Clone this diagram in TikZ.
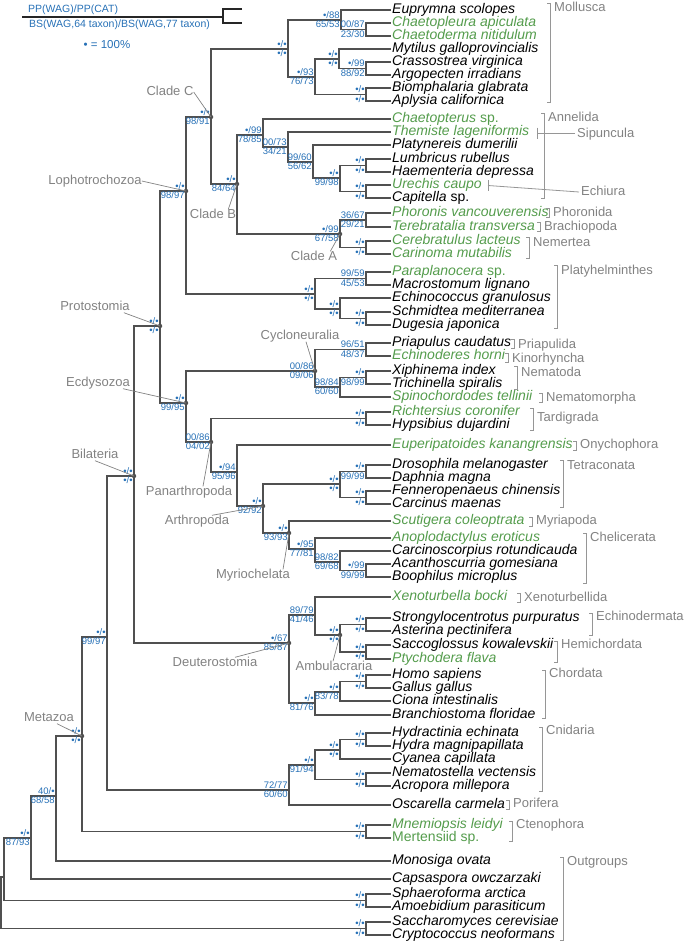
\documentclass[tikz,border=0pt]{standalone}
\usepackage{fontspec}
\setmainfont{Liberation Sans}
\usetikzlibrary{positioning}

\definecolor{treeline}{RGB}{80,80,80}
\definecolor{suppblue}{RGB}{38,112,182}
\definecolor{newgreen}{RGB}{84,156,76}
\definecolor{labelgray}{RGB}{130,130,130}
\definecolor{bracketgray}{RGB}{150,150,150}

% support values above and below the branch leading to a node
\newcommand{\support}[3]{%
  \node[bs, anchor=south east] (#1-up) at (#1) {#2};
  \node[bs, anchor=north east] (#1-dn) at (#1) {#3};}

% bracket with group name: name, x, top, bottom, label y, text
\newcommand{\taxgroup}[6]{%
  \draw[bracket] (#2-3,#3) -- (#2,#3) -- (#2,#4) -- (#2-3,#4);
  \node[group] (#1) at (#2+4,#5) {#6};}

\begin{document}
\begin{tikzpicture}[
    x=1pt, y=-1pt,
    branch/.style={draw=treeline, line width=1.1pt},
    leaf/.style={anchor=west, inner xsep=1pt, inner ysep=0pt, text height=9.5pt, text depth=2.5pt,
                 font=\fontsize{14}{14}\selectfont\itshape},
    newleaf/.style={leaf, text=newgreen},
    bs/.style={inner xsep=1.2pt, inner ysep=0.9pt, text height=6.8pt, text depth=0.6pt, text=suppblue,
               font=\fontsize{9.5}{10}\selectfont},
    legend/.style={inner sep=0pt, text=suppblue, font=\fontsize{10.5}{11}\selectfont},
    group/.style={anchor=west, inner sep=0pt, text height=9pt, text depth=2.5pt, text=labelgray,
                  font=\fontsize{13}{13}\selectfont},
    clade/.style={inner sep=0pt, text height=8.8pt, text depth=2.2pt, text=labelgray,
                  font=\fontsize{13}{13}\selectfont},
    pointer/.style={draw=labelgray, line width=0.7pt},
    bracket/.style={draw=bracketgray, line width=0.8pt},
    knot/.style={circle, fill=treeline, inner sep=0pt, minimum size=4.5pt}
]
\useasboundingbox (0,0) rectangle (685,943);

% Legend
\coordinate (key-a) at (22,17);
\coordinate (key-b) at (223,17);
\coordinate (key-c) at (242,9);
\coordinate (key-d) at (242,23);
\draw[branch, draw=black!85, line width=1.4pt] (key-a) -- (key-b);
\draw[branch, draw=black!85, line width=1.4pt] (key-c) -| (key-b) |- (key-d);
\node[legend, anchor=south west] (key-pp) at (28,15) {PP(WAG)/PP(CAT)};
\node[legend, anchor=north west] (key-bs) at (29,20) {BS(WAG,64 taxon)/BS(WAG,77 taxon)};
\node[legend, font=\fontsize{11.5}{12}\selectfont] (key-dot) at (107,45) {• = 100\%};

% Taxa
\node[leaf] (euprymna) at (391,10) {Euprymna scolopes};
\node[newleaf] (chaetopleura) at (391,23) {Chaetopleura apiculata};
\node[newleaf] (chaetoderma) at (391,36) {Chaetoderma nitidulum};
\node[leaf] (mytilus) at (391,49) {Mytilus galloprovincialis};
\node[leaf] (crassostrea) at (391,62) {Crassostrea virginica};
\node[leaf] (argopecten) at (391,75) {Argopecten irradians};
\node[leaf] (biomphalaria) at (391,88) {Biomphalaria glabrata};
\node[leaf] (aplysia) at (391,101) {Aplysia californica};
\node[newleaf] (chaetopterus) at (391,119) {Chaetopterus \textup{sp.}};
\node[newleaf] (themiste) at (391,132) {Themiste lageniformis};
\node[leaf] (platynereis) at (391,145) {Platynereis dumerilii};
\node[leaf] (lumbricus) at (391,159) {Lumbricus rubellus};
\node[leaf] (haementeria) at (391,172) {Haementeria depressa};
\node[newleaf] (urechis) at (391,185) {Urechis caupo};
\node[leaf] (capitella) at (391,198) {Capitella \textup{sp.}};
\node[newleaf] (phoronis) at (391,213) {Phoronis vancouverensis};
\node[newleaf] (terebratalia) at (391,227) {Terebratalia transversa};
\node[newleaf] (cerebratulus) at (391,241) {Cerebratulus lacteus};
\node[newleaf] (carinoma) at (391,254) {Carinoma mutabilis};
\node[newleaf] (paraplanocera) at (391,272) {Paraplanocera \textup{sp.}};
\node[leaf] (macrostomum) at (391,285) {Macrostomum lignano};
\node[leaf] (echinococcus) at (391,298) {Echinococcus granulosus};
\node[leaf] (schmidtea) at (391,312) {Schmidtea mediterranea};
\node[leaf] (dugesia) at (391,325) {Dugesia japonica};
\node[leaf] (priapulus) at (391,343) {Priapulus caudatus};
\node[newleaf] (echinoderes) at (391,356) {Echinoderes horni};
\node[leaf] (xiphinema) at (391,371) {Xiphinema index};
\node[leaf] (trichinella) at (391,384) {Trichinella spiralis};
\node[newleaf] (spinochordodes) at (391,397) {Spinochordodes tellinii};
\node[newleaf] (richtersius) at (391,412) {Richtersius coronifer};
\node[leaf] (hypsibius) at (391,425) {Hypsibius dujardini};
\node[newleaf] (euperipatoides) at (391,445) {Euperipatoides kanangrensis};
\node[leaf] (drosophila) at (391,465) {Drosophila melanogaster};
\node[leaf] (daphnia) at (391,478) {Daphnia magna};
\node[leaf] (fenneropenaeus) at (391,491) {Fenneropenaeus chinensis};
\node[leaf] (carcinus) at (391,504) {Carcinus maenas};
\node[newleaf] (scutigera) at (391,521) {Scutigera coleoptrata};
\node[newleaf] (anoplodactylus) at (391,538) {Anoplodactylus eroticus};
\node[leaf] (carcinoscorpius) at (391,551) {Carcinoscorpius rotundicauda};
\node[leaf] (acanthoscurria) at (391,564) {Acanthoscurria gomesiana};
\node[leaf] (boophilus) at (391,577) {Boophilus microplus};
\node[newleaf] (xenoturbella) at (391,597) {Xenoturbella bocki};
\node[leaf] (strongylocentrotus) at (391,618) {Strongylocentrotus purpuratus};
\node[leaf] (asterina) at (391,631) {Asterina pectinifera};
\node[leaf] (saccoglossus) at (391,645) {Saccoglossus kowalevskii};
\node[newleaf] (ptychodera) at (391,659) {Ptychodera flava};
\node[leaf] (homo) at (391,675) {Homo sapiens};
\node[leaf] (gallus) at (391,688) {Gallus gallus};
\node[leaf] (ciona) at (391,701) {Ciona intestinalis};
\node[leaf] (branchiostoma) at (391,715) {Branchiostoma floridae};
\node[leaf] (hydractinia) at (391,733) {Hydractinia echinata};
\node[leaf] (hydra) at (391,746) {Hydra magnipapillata};
\node[leaf] (cyanea) at (391,759) {Cyanea capillata};
\node[leaf] (nematostella) at (391,773) {Nematostella vectensis};
\node[leaf] (acropora) at (391,786) {Acropora millepora};
\node[leaf] (oscarella) at (391,805) {Oscarella carmela};
\node[newleaf] (mnemiopsis) at (391,825) {Mnemiopsis leidyi};
\node[newleaf, font=\fontsize{14}{14}\selectfont\upshape] (mertensiid) at (391,838) {Mertensiid sp.};
\node[leaf] (monosiga) at (391,861) {Monosiga ovata};
\node[leaf] (capsaspora) at (391,879) {Capsaspora owczarzaki};
\node[leaf] (sphaeroforma) at (391,894) {Sphaeroforma arctica};
\node[leaf] (amoebidium) at (391,907) {Amoebidium parasiticum};
\node[leaf] (saccharomyces) at (391,922) {Saccharomyces cerevisiae};
\node[leaf] (cryptococcus) at (391,935) {Cryptococcus neoformans};

% Branch points
\coordinate (m1) at (341,20);
\coordinate (m2) at (366,29.5);
\coordinate (mollusca) at (288,49);
\coordinate (m3) at (315,77);
\coordinate (m4) at (339,59);
\coordinate (m5) at (366,68.5);
\coordinate (m6) at (366,94.5);
\coordinate (cladeC) at (211,117);
\coordinate (cladeB) at (237,184);
\coordinate (a1) at (263,135);
\coordinate (a2) at (288,147);
\coordinate (a3) at (313,162);
\coordinate (a4) at (340,178);
\coordinate (a5) at (366,165.5);
\coordinate (a6) at (366,191.5);
\coordinate (cladeA) at (340,234);
\coordinate (l1) at (366,220);
\coordinate (l2) at (366,247.5);
\coordinate (lophotrochozoa) at (186,191);
\coordinate (platy) at (315,294);
\coordinate (p1) at (366,278.5);
\coordinate (p2) at (340,309);
\coordinate (p3) at (366,318.5);
\coordinate (protostomia) at (160,326);
\coordinate (ecdysozoa) at (186,403);
\coordinate (cycloneuralia) at (315,371);
\coordinate (c1) at (366,349.5);
\coordinate (c2) at (340,387);
\coordinate (c3) at (366,377.5);
\coordinate (panarthropoda) at (211,442);
\coordinate (t1) at (366,418.5);
\coordinate (e1) at (237,472);
\coordinate (arthropoda) at (263,506);
\coordinate (tetraconata) at (340,484);
\coordinate (d1) at (366,471.5);
\coordinate (d2) at (366,497.5);
\coordinate (myriochelata) at (289,533);
\coordinate (h1) at (315,549);
\coordinate (h2) at (340,562);
\coordinate (h3) at (366,570.5);
\coordinate (bilateria) at (134,476);
\coordinate (deuterostomia) at (289,643);
\coordinate (x1) at (315,615);
\coordinate (ambulacraria) at (340,635);
\coordinate (s1) at (366,624.5);
\coordinate (s2) at (366,652);
\coordinate (chordata) at (315,703);
\coordinate (v1) at (340,692);
\coordinate (v2) at (366,681.5);
\coordinate (n1) at (107,637);
\coordinate (n2) at (289,790);
\coordinate (cnidaria) at (315,765);
\coordinate (k1) at (340,750);
\coordinate (k2) at (366,739.5);
\coordinate (k3) at (366,779.5);
\coordinate (metazoa) at (82,736);
\coordinate (ctenophora) at (366,831.5);
\coordinate (o1) at (56,796);
\coordinate (o2) at (31,838);
\coordinate (o3) at (4,877);
\coordinate (o4) at (366,900.5);
\coordinate (o5) at (366,928.5);
\coordinate (root) at (1,903);

% Branches
\draw[branch] (m1) |- (euprymna.west) (m1) |- (m2);
\draw[branch] (m2) |- (chaetopleura.west) (m2) |- (chaetoderma.west);
\draw[branch] (mollusca) |- (m1) (mollusca) |- (m3);
\draw[branch] (m3) |- (m4) (m3) |- (m6);
\draw[branch] (m4) |- (mytilus.west) (m4) |- (m5);
\draw[branch] (m5) |- (crassostrea.west) (m5) |- (argopecten.west);
\draw[branch] (m6) |- (biomphalaria.west) (m6) |- (aplysia.west);
\draw[branch] (cladeC) |- (mollusca) (cladeC) |- (cladeB);
\draw[branch] (cladeB) |- (a1) (cladeB) |- (cladeA);
\draw[branch] (a1) |- (chaetopterus.west) (a1) |- (a2);
\draw[branch] (a2) |- (themiste.west) (a2) |- (a3);
\draw[branch] (a3) |- (platynereis.west) (a3) |- (a4);
\draw[branch] (a4) |- (a5) (a4) |- (a6);
\draw[branch] (a5) |- (lumbricus.west) (a5) |- (haementeria.west);
\draw[branch] (a6) |- (urechis.west) (a6) |- (capitella.west);
\draw[branch] (cladeA) |- (l1) (cladeA) |- (l2);
\draw[branch] (l1) |- (phoronis.west) (l1) |- (terebratalia.west);
\draw[branch] (l2) |- (cerebratulus.west) (l2) |- (carinoma.west);
\draw[branch] (lophotrochozoa) |- (cladeC) (lophotrochozoa) |- (platy);
\draw[branch] (platy) |- (p1) (platy) |- (p2);
\draw[branch] (p1) |- (paraplanocera.west) (p1) |- (macrostomum.west);
\draw[branch] (p2) |- (echinococcus.west) (p2) |- (p3);
\draw[branch] (p3) |- (schmidtea.west) (p3) |- (dugesia.west);
\draw[branch] (protostomia) |- (lophotrochozoa) (protostomia) |- (ecdysozoa);
\draw[branch] (ecdysozoa) |- (cycloneuralia) (ecdysozoa) |- (panarthropoda);
\draw[branch] (cycloneuralia) |- (c1) (cycloneuralia) |- (c2);
\draw[branch] (c1) |- (priapulus.west) (c1) |- (echinoderes.west);
\draw[branch] (c2) |- (c3) (c2) |- (spinochordodes.west);
\draw[branch] (c3) |- (xiphinema.west) (c3) |- (trichinella.west);
\draw[branch] (panarthropoda) |- (t1) (panarthropoda) |- (e1);
\draw[branch] (t1) |- (richtersius.west) (t1) |- (hypsibius.west);
\draw[branch] (e1) |- (euperipatoides.west) (e1) |- (arthropoda);
\draw[branch] (arthropoda) |- (tetraconata) (arthropoda) |- (myriochelata);
\draw[branch] (tetraconata) |- (d1) (tetraconata) |- (d2);
\draw[branch] (d1) |- (drosophila.west) (d1) |- (daphnia.west);
\draw[branch] (d2) |- (fenneropenaeus.west) (d2) |- (carcinus.west);
\draw[branch] (myriochelata) |- (scutigera.west) (myriochelata) |- (h1);
\draw[branch] (h1) |- (anoplodactylus.west) (h1) |- (h2);
\draw[branch] (h2) |- (carcinoscorpius.west) (h2) |- (h3);
\draw[branch] (h3) |- (acanthoscurria.west) (h3) |- (boophilus.west);
\draw[branch] (bilateria) |- (protostomia) (bilateria) |- (deuterostomia);
\draw[branch] (deuterostomia) |- (x1) (deuterostomia) |- (chordata);
\draw[branch] (x1) |- (xenoturbella.west) (x1) |- (ambulacraria);
\draw[branch] (ambulacraria) |- (s1) (ambulacraria) |- (s2);
\draw[branch] (s1) |- (strongylocentrotus.west) (s1) |- (asterina.west);
\draw[branch] (s2) |- (saccoglossus.west) (s2) |- (ptychodera.west);
\draw[branch] (chordata) |- (v1) (chordata) |- (branchiostoma.west);
\draw[branch] (v1) |- (v2) (v1) |- (ciona.west);
\draw[branch] (v2) |- (homo.west) (v2) |- (gallus.west);
\draw[branch] (n1) |- (bilateria) (n1) |- (n2);
\draw[branch] (n2) |- (cnidaria) (n2) |- (oscarella.west);
\draw[branch] (cnidaria) |- (k1) (cnidaria) |- (k3);
\draw[branch] (k1) |- (k2) (k1) |- (cyanea.west);
\draw[branch] (k2) |- (hydractinia.west) (k2) |- (hydra.west);
\draw[branch] (k3) |- (nematostella.west) (k3) |- (acropora.west);
\draw[branch] (metazoa) |- (n1) (metazoa) |- (ctenophora);
\draw[branch] (ctenophora) |- (mnemiopsis.west) (ctenophora) |- (mertensiid.west);
\draw[branch] (o1) |- (metazoa) (o1) |- (monosiga.west);
\draw[branch] (o2) |- (o1) (o2) |- (capsaspora.west);
\draw[branch] (o3) |- (o2) (o3) |- (o4);
\draw[branch] (o4) |- (sphaeroforma.west) (o4) |- (amoebidium.west);
\draw[branch] (root) |- (o3) (root) |- (o5);
\draw[branch] (o5) |- (saccharomyces.west) (o5) |- (cryptococcus.west);

% Support values
\support{m1}{•/88}{65/53}
\support{m2}{00/87}{23/30}
\support{mollusca}{•/•}{•/•}
\support{m3}{•/93}{76/73}
\support{m4}{•/•}{•/•}
\support{m5}{•/99}{88/92}
\support{m6}{•/•}{•/•}
\support{cladeC}{•/•}{98/91}
\support{cladeB}{•/•}{84/64}
\support{a1}{•/99}{78/85}
\support{a2}{00/73}{34/21}
\support{a3}{99/60}{56/62}
\support{a4}{•/•}{99/98}
\support{a5}{•/•}{•/•}
\support{a6}{•/•}{•/•}
\support{cladeA}{•/99}{67/58}
\support{l1}{36/67}{29/21}
\support{l2}{•/•}{•/•}
\support{lophotrochozoa}{•/•}{98/97}
\support{platy}{•/•}{•/•}
\support{p1}{99/59}{45/53}
\support{p2}{•/•}{•/•}
\support{p3}{•/•}{•/•}
\support{protostomia}{•/•}{•/•}
\support{ecdysozoa}{•/•}{99/95}
\support{cycloneuralia}{00/86}{09/06}
\support{c1}{96/51}{48/37}
\support{c2}{98/84}{60/60}
\support{c3}{•/•}{98/99}
\support{panarthropoda}{00/86}{04/02}
\support{t1}{•/•}{•/•}
\support{e1}{•/94}{95/96}
\support{arthropoda}{•/•}{92/92}
\support{tetraconata}{•/•}{•/•}
\support{d1}{•/•}{99/99}
\support{d2}{•/•}{•/•}
\support{myriochelata}{•/•}{93/93}
\support{h1}{•/95}{77/81}
\support{h2}{98/82}{69/68}
\support{h3}{•/99}{99/99}
\support{bilateria}{•/•}{•/•}
\support{deuterostomia}{•/67}{85/87}
\support{x1}{89/79}{41/46}
\support{ambulacraria}{•/•}{•/•}
\support{s1}{•/•}{•/•}
\support{s2}{•/•}{•/•}
\support{chordata}{•/•}{81/76}
\support{v1}{•/•}{83/78}
\support{v2}{•/•}{•/•}
\support{n1}{•/•}{99/97}
\support{n2}{72/77}{60/60}
\support{cnidaria}{•/•}{91/94}
\support{k1}{•/•}{•/•}
\support{k2}{•/•}{•/•}
\support{k3}{•/•}{•/•}
\support{metazoa}{•/•}{•/•}
\support{ctenophora}{•/•}{•/•}
\support{o1}{40/•}{68/58}
\support{o2}{•/•}{87/93}
\support{o4}{•/•}{•/•}
\support{o5}{•/•}{•/•}

% Named clades
\node[knot] (cladeC-knot) at (cladeC) {};
\node[knot] (cladeB-knot) at (cladeB) {};
\node[knot] (cladeA-knot) at (cladeA) {};
\node[knot] (lophotrochozoa-knot) at (lophotrochozoa) {};
\node[knot] (protostomia-knot) at (protostomia) {};
\node[knot] (ecdysozoa-knot) at (ecdysozoa) {};
\node[knot] (cycloneuralia-knot) at (cycloneuralia) {};
\node[knot] (panarthropoda-knot) at (panarthropoda) {};
\node[knot] (arthropoda-knot) at (arthropoda) {};
\node[knot] (myriochelata-knot) at (myriochelata) {};
\node[knot] (bilateria-knot) at (bilateria) {};
\node[knot] (deuterostomia-knot) at (deuterostomia) {};
\node[knot] (ambulacraria-knot) at (ambulacraria) {};
\node[knot] (metazoa-knot) at (metazoa) {};

\node[clade] (cladeC-lab) at (170,92) {Clade C};
\node[clade] (lophotrochozoa-lab) at (95,181) {Lophotrochozoa};
\node[clade] (cladeB-lab) at (213,215) {Clade B};
\node[clade] (cladeA-lab) at (314,257) {Clade A};
\node[clade] (protostomia-lab) at (95,307) {Protostomia};
\node[clade] (ecdysozoa-lab) at (98,383) {Ecdysozoa};
\node[clade] (cycloneuralia-lab) at (300,336) {Cycloneuralia};
\node[clade] (bilateria-lab) at (95,455) {Bilateria};
\node[clade] (panarthropoda-lab) at (189,492) {Panarthropoda};
\node[clade] (arthropoda-lab) at (197,521) {Arthropoda};
\node[clade] (myriochelata-lab) at (253,575) {Myriochelata};
\node[clade] (deuterostomia-lab) at (215,663) {Deuterostomia};
\node[clade] (ambulacraria-lab) at (334,667) {Ambulacraria};
\node[clade] (metazoa-lab) at (49,718) {Metazoa};

\draw[pointer] (cladeC-lab.east) -- (cladeC-knot.center);
\draw[pointer] (lophotrochozoa-lab.east) -- (lophotrochozoa-knot.center);
\draw[pointer] ([xshift=-8pt]cladeB-lab.north east) -- (cladeB-knot.center);
\draw[pointer] ([xshift=-7pt]cladeA-lab.north east) -- (cladeA-knot.center);
\draw[pointer] ([xshift=-6pt]protostomia-lab.south east) -- (protostomia-knot.center);
\draw[pointer] ([xshift=-7pt]ecdysozoa-lab.south east) -- (ecdysozoa-knot.center);
\draw[pointer] ([xshift=6pt]cycloneuralia-lab.south) -- (cycloneuralia-knot.center);
\draw[pointer] (bilateria-lab.south) -- (bilateria-knot.center);
\draw[pointer] ([xshift=14pt]panarthropoda-lab.north) -- (panarthropoda-knot.center);
\draw[pointer] ([xshift=15pt]arthropoda-lab.north) -- (arthropoda-knot.center);
\draw[pointer] ([xshift=-7pt]myriochelata-lab.north east) -- (myriochelata-knot.center);
\draw[pointer] ([xshift=20pt]deuterostomia-lab.north) -- (deuterostomia-knot.center);
\draw[pointer] ([xshift=-1pt]ambulacraria-lab.north) -- (ambulacraria-knot.center);
\draw[pointer] ([xshift=8pt]metazoa-lab.south) -- (metazoa-knot.center);

% Groups
\taxgroup{mollusca-grp}{550}{3}{102}{8}{Mollusca}
\taxgroup{annelida-grp}{544}{113}{198}{118}{Annelida}
\taxgroup{phoronida-grp}{549}{208.5}{217.5}{213}{Phoronida}
\taxgroup{brachiopoda-grp}{540}{222.5}{231.5}{227}{Brachiopoda}
\taxgroup{nemertea-grp}{529}{237}{258}{243}{Nemertea}
\taxgroup{platyhelminthes-grp}{557}{265}{328}{271}{Platyhelminthes}
\taxgroup{priapulida-grp}{514}{339.5}{348.5}{345}{Priapulida}
\taxgroup{kinorhyncha-grp}{508}{353.5}{362.5}{359}{Kinorhyncha}
\taxgroup{nematoda-grp}{517}{366}{389}{373}{Nematoda}
\taxgroup{nematomorpha-grp}{542}{393.5}{402.5}{398}{Nematomorpha}
\taxgroup{tardigrada-grp}{533}{408}{430}{418}{Tardigrada}
\taxgroup{onychophora-grp}{576}{441}{450}{445}{Onychophora}
\taxgroup{tetraconata-grp}{563}{460}{507}{466}{Tetraconata}
\taxgroup{myriapoda-grp}{532}{517}{526}{521}{Myriapoda}
\taxgroup{chelicerata-grp}{586}{533}{583}{538}{Chelicerata}
\taxgroup{xenoturbellida-grp}{520}{593.5}{602.5}{598}{Xenoturbellida}
\taxgroup{echinodermata-grp}{592}{613}{635}{617}{Echinodermata}
\taxgroup{hemichordata-grp}{557}{641}{662}{645}{Hemichordata}
\taxgroup{chordata-grp}{545}{670}{718}{674}{Chordata}
\taxgroup{cnidaria-grp}{542}{727}{791}{731}{Cnidaria}
\taxgroup{porifera-grp}{509}{800.5}{809.5}{804}{Porifera}
\taxgroup{ctenophora-grp}{512}{821}{841}{825}{Ctenophora}
\taxgroup{outgroups-grp}{563}{857}{940}{862}{Outgroups}

% Sipuncula and Echiura
\coordinate (sipuncula-tick) at (537,133);
\coordinate (sipuncula-end) at (575,133);
\draw[bracket] (537,127.5) -- (537,138.5);
\draw[bracket] (sipuncula-tick) -- (sipuncula-end);
\node[group] (sipuncula-grp) at (577,134) {Sipuncula};
\coordinate (echiura-tick) at (488,185.5);
\coordinate (echiura-end) at (579,192);
\draw[bracket] (488,180) -- (488,191);
\draw[bracket] (echiura-tick) -- (echiura-end);
\node[group] (echiura-grp) at (581,192) {Echiura};

\end{tikzpicture}
\end{document}
